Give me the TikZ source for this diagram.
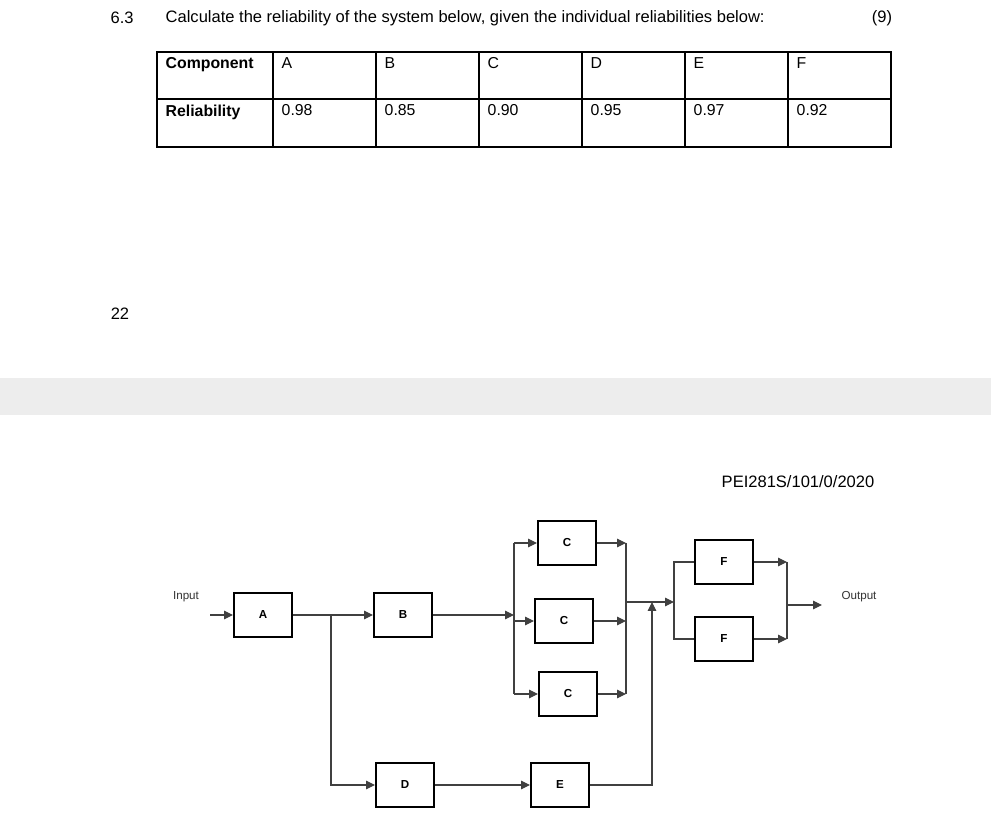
\documentclass[tikz,border=0pt]{standalone}
\usepackage{fontspec}
\setmainfont{Liberation Sans}
\usetikzlibrary{arrows.meta}
\begin{document}
\begin{tikzpicture}[x=0.01cm,y=-0.01cm,
  blk/.style={draw,line width=0.55pt,minimum width=0.58cm,minimum height=0.44cm,inner sep=0pt,font=\fontsize{3.3pt}{3.7pt}\selectfont\bfseries},
  wire/.style={draw=black!75,line width=0.3pt},
  arr/.style={wire,-{Triangle[length=2.5pt,width=2.4pt]}},
  txt/.style={font=\fontsize{4.7pt}{5.5pt}\selectfont,inner sep=0pt},
  cell/.style={font=\fontsize{4.5pt}{5pt}\selectfont,inner sep=0pt,anchor=north west},
  lbl/.style={font=\fontsize{3.3pt}{4pt}\selectfont,inner sep=0pt,text=black!80}]
\useasboundingbox (0,0) rectangle (991,819);
\fill[white] (0,0) rectangle (991,819);
\fill[black!7] (0,378) rectangle (991,415);
\node[txt,anchor=west] (q) at (110,18) {6.3};
\node[txt,anchor=west] (qt) at (165,18) {Calculate the reliability of the system below, given the individual reliabilities below:};
\node[txt] (mk) at (882,18) {(9)};
\node[txt] (pg) at (120,314) {22};
\node[txt] (code) at (798,482) {PEI281S/101/0/2020};
% table
\draw[line width=0.35pt] (157,52) rectangle (891,147);
\draw[line width=0.35pt] (157,99) -- (891,99);
\foreach \x in {273,376,479,582,685,788} \draw[line width=0.35pt] (\x,52) -- (\x,147);
\node[cell] (h0) at (165,57) {\bfseries Component};
\node[cell] (r0) at (165,104) {\bfseries Reliability};
\foreach \x/\l/\v [count=\i] in {273/A/0.98,376/B/0.85,479/C/0.90,582/D/0.95,685/E/0.97,788/F/0.92}{
  \node[cell] (h\i) at (\x+8,57) {\l};
  \node[cell] (r\i) at (\x+8,104) {\v};}
% diagram
\node[lbl] (in) at (186,597) {Input};
\node[lbl] (out) at (859,597) {Output};
\node[blk] (A) at (263,615) {A};
\node[blk] (B) at (403,615) {B};
\node[blk] (C1) at (567,543) {C};
\node[blk] (C2) at (564,621) {C};
\node[blk] (C3) at (568,694) {C};
\node[blk] (D) at (405,785) {D};
\node[blk] (E) at (560,785) {E};
\node[blk] (F1) at (724,562) {F};
\node[blk] (F2) at (724,639) {F};
\coordinate (s) at (210,615);
\coordinate (j1) at (331,615);
\coordinate (j2) at (514,615);
\coordinate (j3) at (626,602);
\coordinate (j4) at (674,602);
\coordinate (j5) at (652,602);
\coordinate (j6) at (787,605);
\coordinate (o) at (822,605);
\draw[arr] (s) -- (A.west);
\draw[arr] (A.east) -- (B.west);
\draw[arr] (j1) |- (D.west);
\draw[arr] (B.east) -- (j2);
\draw[wire] (j2 |- C1) -- (j2 |- C3);
\draw[arr] (j2 |- C1) -- (C1.west);
\draw[arr] (j2 |- C2) -- (C2.west);
\draw[arr] (j2 |- C3) -- (C3.west);
\draw[arr] (C1.east) -- (j3 |- C1);
\draw[arr] (C2.east) -- (j3 |- C2);
\draw[arr] (C3.east) -- (j3 |- C3);
\draw[wire] (j3 |- C1) -- (j3 |- C3);
\draw[arr] (j3) -- (j4);
\draw[arr] (D.east) -- (E.west);
\draw[arr] (E.east) -| (j5);
\draw[wire] (F1.west) -| (j4) |- (F2.west);
\draw[arr] (F1.east) -- (j6 |- F1);
\draw[arr] (F2.east) -- (j6 |- F2);
\draw[wire] (j6 |- F1) -- (j6 |- F2);
\draw[arr] (j6) -- (o);
\end{tikzpicture}
\end{document}
